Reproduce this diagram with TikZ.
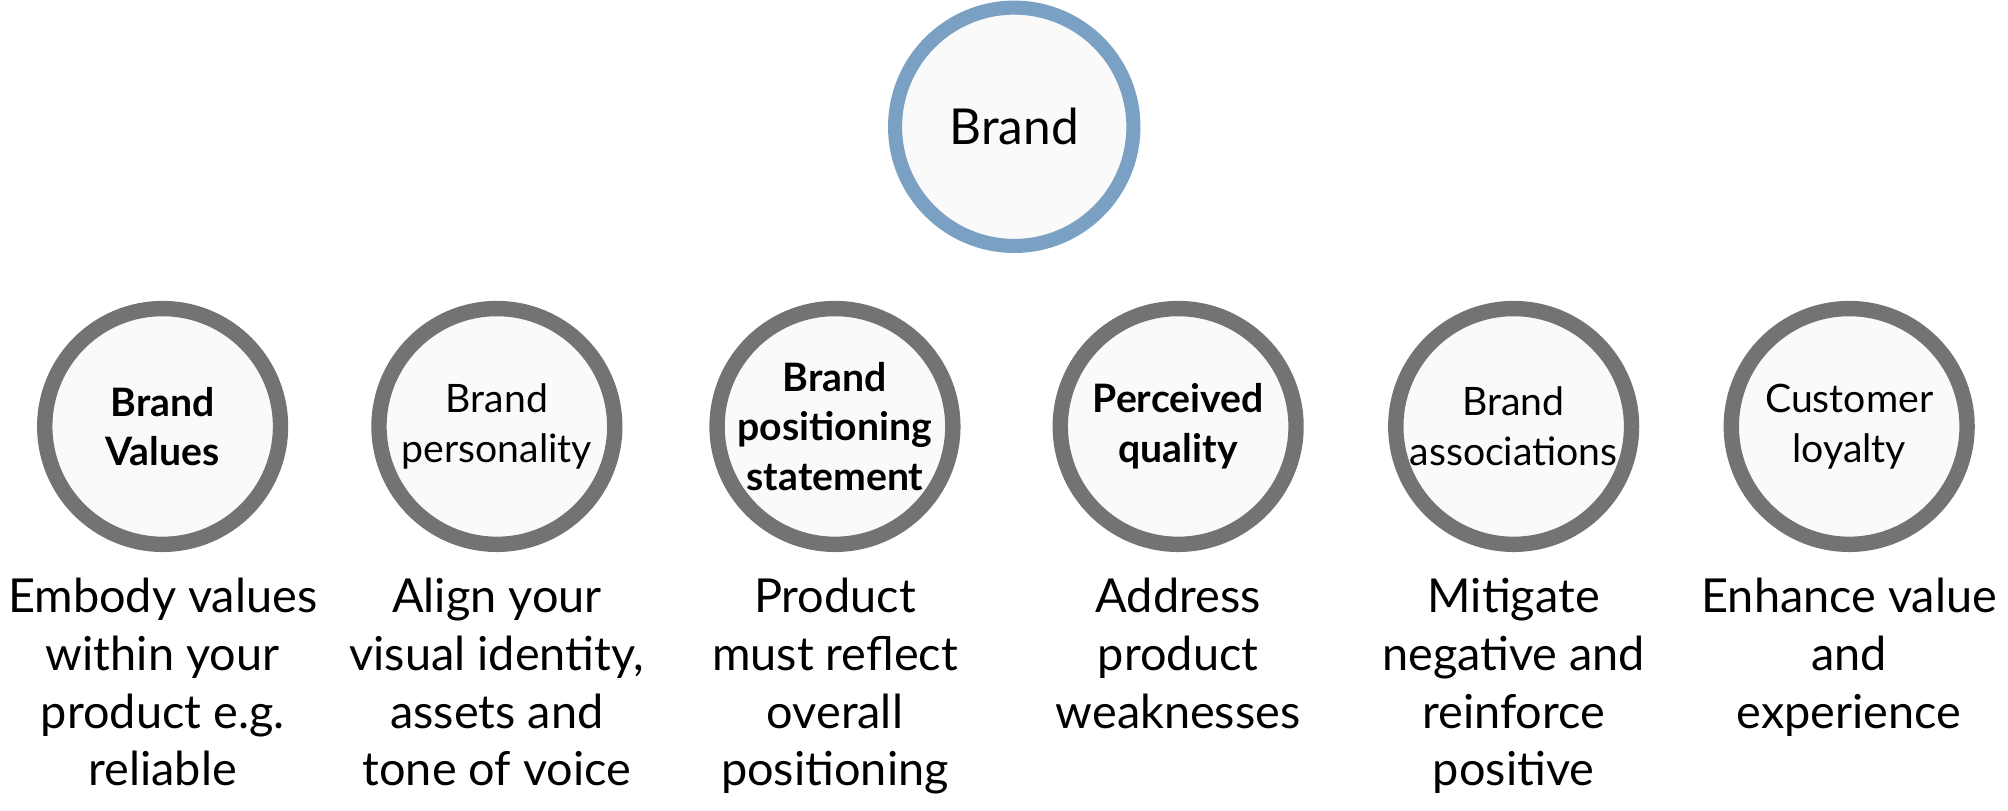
\documentclass[tikz,border=0pt]{standalone}
\usepackage{fontspec}
\setmainfont{Lato}
\definecolor{ring}{HTML}{737373}
\definecolor{bring}{HTML}{7AA0C4}
\definecolor{fillc}{HTML}{FAFAFA}
\begin{document}
\begin{tikzpicture}[x=0.01cm,y=-0.01cm,
  circ/.style={circle,draw=ring,line width=0.12cm,fill=fillc,minimum size=1.84cm,inner sep=0pt,align=center,font=\fontsize{8.7}{11}\selectfont},
  bcirc/.style={circ,draw=bring,line width=0.11cm,minimum size=1.86cm,font=\fontsize{11}{13}\selectfont},
  desc/.style={align=center,anchor=north,inner sep=0pt,font=\fontsize{10.4}{12.8}\selectfont}]
\useasboundingbox (0,0) rectangle (1568,633);
\node[bcirc] (brand) at (792,99) {Brand};
\node[circ] (c1) at (127,333) {\textbf{Brand}\\\textbf{Values}};
\node[circ] (c2) at (388,333) {Brand\\personality};
\node[circ] (c3) at (652,333) {\textbf{Brand}\\\textbf{positioning}\\\textbf{statement}};
\node[circ] (c4) at (920,333) {\textbf{Perceived}\\\textbf{quality}};
\node[circ] (c5) at (1182,333) {Brand\\associations};
\node[circ] (c6) at (1444,333) {Customer\\loyalty};
\node[desc] (d1) at (127,451) {Embody values\\within your\\product e.g.\\reliable};
\node[desc] (d2) at (388,451) {Align your\\visual identity,\\assets and\\tone of voice};
\node[desc] (d3) at (652,451) {Product\\must reflect\\overall\\positioning};
\node[desc] (d4) at (920,451) {Address\\product\\weaknesses};
\node[desc] (d5) at (1182,451) {Mitigate\\negative and\\reinforce\\positive};
\node[desc] (d6) at (1444,451) {Enhance value\\and\\experience};
\end{tikzpicture}
\end{document}
